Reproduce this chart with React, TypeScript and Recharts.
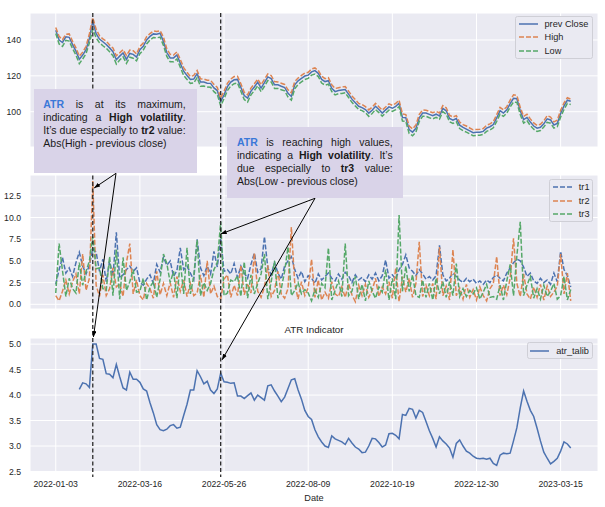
import React from "react";
import { CartesianGrid, Label, Legend, Line, LineChart, XAxis, YAxis } from "recharts";

// trading-day index of each sample (every second session, 2022-01-03 .. 2023-03-20)
const days = [
  0, 2, 4, 6, 8, 10, 12, 14, 16, 18, 20, 22, 24, 26, 28, 30, 32, 34, 36, 38,
  40, 42, 44, 46, 48, 50, 52, 54, 56, 58, 60, 62, 64, 66, 68, 70, 72, 74, 76, 78,
  80, 82, 84, 86, 88, 90, 92, 94, 96, 98, 100, 102, 104, 106, 108, 110, 112, 114, 116, 118,
  120, 122, 124, 126, 128, 130, 132, 134, 136, 138, 140, 142, 144, 146, 148, 150, 152, 154, 156, 158,
  160, 162, 164, 166, 168, 170, 172, 174, 176, 178, 180, 182, 184, 186, 188, 190, 192, 194, 196, 198,
  200, 202, 204, 206, 208, 210, 212, 214, 216, 218, 220, 222, 224, 226, 228, 230, 232, 234, 236, 238,
  240, 242, 244, 246, 248, 250, 252, 254, 256, 258, 260, 262, 264, 266, 268, 270, 272, 274, 276, 278,
  280, 282, 284, 286, 288, 290, 292, 294, 296, 298, 300, 302, 304, 306,
];

const xTicks = [0, 50, 100, 150, 200, 250, 300];
const xTickLabels = ["2022-01-03", "2022-03-16", "2022-05-26", "2022-08-09", "2022-10-19", "2022-12-30", "2023-03-15"];

const prevClose = [
  145.5, 140.0, 138.6, 141.8, 141.5, 137.4, 133.8, 129.2, 131.6, 134.6,
  141.0, 150.5, 143.5, 140.5, 139.0, 137.5, 135.6, 133.5, 129.0, 131.0,
  132.8, 129.2, 132.5, 132.0, 130.5, 134.6, 136.5, 140.0, 142.0, 143.4,
  143.2, 143.8, 139.2, 133.0, 130.0, 130.0, 131.6, 127.0, 122.6, 120.2,
  118.0, 118.2, 121.2, 116.5, 116.5, 115.9, 115.8, 113.3, 111.8, 105.6,
  109.4, 114.0, 116.5, 117.8, 118.0, 113.5, 109.0, 107.6, 111.5, 113.8,
  116.5, 113.2, 116.2, 119.4, 118.5, 115.0, 115.0, 114.2, 113.5, 110.3,
  108.5, 115.0, 117.2, 118.6, 119.9, 120.4, 122.2, 122.9, 121.4, 118.0,
  116.8, 117.3, 113.1, 111.2, 111.8, 112.1, 112.4, 109.8, 107.0, 105.0,
  103.0, 102.3, 101.2, 99.2, 100.8, 103.0, 101.2, 99.2, 101.0, 102.7,
  101.9, 103.0, 104.7, 96.8, 96.6, 90.0, 88.6, 90.7, 96.6, 99.2,
  99.2, 98.5, 97.8, 98.6, 97.6, 101.8, 100.5, 96.2, 95.3, 96.2,
  92.5, 91.2, 90.3, 89.3, 88.3, 88.5, 88.5, 89.0, 90.8, 91.6,
  92.8, 96.5, 100.6, 99.2, 101.0, 104.5, 107.5, 107.2, 100.5, 95.6,
  96.8, 94.2, 92.0, 90.8, 91.3, 93.2, 96.0, 95.4, 92.6, 93.5,
  99.0, 103.2, 106.4, 105.8,
];

const high = [
  147.0, 142.0, 140.2, 143.2, 143.4, 139.2, 135.6, 131.0, 133.2, 136.5,
  143.5, 152.5, 146.0, 142.3, 140.6, 139.4, 137.2, 135.5, 131.2, 132.8,
  134.6, 131.4, 134.4, 134.0, 132.2, 136.4, 138.3, 141.8, 143.6, 145.0,
  144.8, 145.2, 141.6, 135.0, 132.0, 131.6, 133.4, 129.2, 124.6, 122.0,
  119.6, 120.2, 123.0, 118.4, 118.2, 117.6, 117.5, 115.2, 113.6, 107.6,
  111.4, 115.8, 118.2, 119.6, 119.8, 115.6, 110.8, 109.4, 113.2, 115.6,
  118.2, 115.0, 118.0, 121.0, 120.2, 116.8, 116.6, 115.9, 115.2, 112.2,
  110.6, 116.8, 118.8, 120.2, 121.5, 122.0, 123.8, 124.4, 123.0, 119.8,
  118.4, 119.0, 115.0, 112.9, 113.4, 113.8, 114.0, 111.5, 108.8, 106.8,
  104.6, 104.0, 102.8, 101.0, 102.5, 104.6, 102.8, 100.9, 102.6, 104.4,
  103.6, 104.6, 106.4, 98.8, 98.4, 92.0, 90.4, 92.6, 98.5, 100.9,
  100.8, 100.2, 99.4, 100.2, 99.3, 103.4, 102.2, 98.0, 97.0, 97.8,
  94.2, 92.8, 92.0, 90.9, 89.9, 90.1, 90.2, 90.6, 92.4, 93.2,
  94.4, 98.4, 102.4, 101.0, 102.8, 106.4, 109.4, 109.0, 102.4, 97.4,
  98.6, 96.0, 93.7, 92.4, 93.0, 94.9, 97.8, 97.0, 94.3, 95.2,
  100.8, 104.9, 107.8, 107.0,
];

const low = [
  143.6, 137.8, 136.4, 139.8, 139.4, 135.2, 131.6, 126.8, 129.4, 132.4,
  138.4, 146.0, 141.2, 138.4, 136.8, 135.4, 133.4, 131.2, 126.6, 128.8,
  130.6, 127.0, 130.4, 129.8, 128.4, 132.4, 134.4, 137.8, 140.0, 141.4,
  141.2, 141.6, 137.0, 130.8, 127.8, 127.8, 129.4, 124.8, 120.2, 118.0,
  115.8, 116.0, 119.0, 114.2, 114.3, 113.8, 113.6, 111.2, 109.6, 103.2,
  107.2, 111.8, 114.4, 115.6, 116.0, 111.4, 106.8, 105.4, 109.4, 111.8,
  114.4, 111.2, 114.2, 117.4, 116.6, 113.0, 113.0, 112.2, 111.6, 108.2,
  106.4, 112.8, 115.2, 116.6, 118.0, 118.6, 120.4, 121.0, 119.6, 116.0,
  114.8, 115.4, 111.2, 109.4, 110.0, 110.2, 110.6, 107.9, 105.2, 103.2,
  101.2, 100.6, 99.5, 97.4, 99.0, 101.2, 99.5, 97.5, 99.2, 100.9,
  100.2, 101.2, 102.8, 94.8, 94.6, 87.8, 86.6, 88.6, 94.6, 97.4,
  97.4, 96.6, 96.0, 96.8, 95.8, 100.0, 98.6, 94.4, 93.4, 94.4,
  90.6, 89.4, 88.6, 87.6, 86.6, 86.8, 86.8, 87.3, 89.0, 89.8,
  91.0, 94.6, 98.6, 97.4, 99.2, 102.6, 105.4, 105.2, 98.4, 93.6,
  95.0, 92.2, 90.2, 89.0, 89.5, 91.4, 94.1, 93.6, 90.8, 91.6,
  97.0, 101.2, 104.6, 104.0,
];

// tr1 = High - Low, tr2 = |High - prev close|, tr3 = |Low - prev close|
const tr1 = [
  2.3, 4.0, 5.4, 3.6, 4.2, 3.2, 4.8, 6.0, 4.4, 3.5,
  4.5, 6.4, 6.0, 3.8, 5.2, 2.6, 5.0, 3.2, 8.3, 3.0,
  3.4, 4.0, 4.4, 3.8, 4.2, 2.5, 2.2, 2.9, 3.4, 2.4,
  4.6, 3.7, 5.4, 4.5, 5.0, 3.2, 3.9, 6.5, 4.0, 4.4,
  3.6, 2.8, 7.5, 4.2, 3.3, 4.4, 3.5, 6.1, 4.3, 7.6,
  3.8, 4.0, 3.5, 4.7, 3.1, 4.4, 3.6, 3.0, 4.6, 5.9,
  3.7, 4.1, 7.8, 4.2, 3.4, 4.8, 3.6, 2.9, 4.4, 5.0,
  5.5, 4.0, 3.0, 3.8, 2.6, 3.3, 3.0, 2.4, 3.5, 2.8,
  3.2, 3.6, 3.0, 2.7, 3.5, 2.9, 3.7, 3.3, 2.5, 3.4,
  2.8, 3.1, 2.6, 3.4, 2.9, 3.6, 2.7, 3.3, 5.1, 3.0,
  3.4, 2.9, 4.0, 4.6, 5.7, 4.2, 3.8, 3.3, 4.0, 3.5,
  2.9, 3.2, 2.8, 3.3, 6.8, 3.4, 2.7, 3.0, 3.6, 3.2,
  2.8, 2.5, 3.0, 2.6, 2.9, 2.4, 2.7, 2.3, 2.8, 2.5,
  3.1, 3.4, 3.0, 2.7, 3.6, 4.2, 4.8, 5.2, 5.0, 4.3,
  3.2, 3.6, 2.7, 2.4, 3.0, 2.5, 2.8, 2.3, 3.6, 2.6,
  6.1, 4.0, 3.3, 2.0,
];

const tr2 = [
  1.0, 0.4, 1.5, 2.8, 1.2, 2.6, 3.5, 1.2, 5.8, 1.6,
  3.0, 14.2, 2.2, 0.9, 3.4, 1.0, 1.8, 4.2, 2.0, 2.4,
  0.9, 4.8, 7.0, 1.2, 2.8, 1.0, 0.5, 2.4, 1.8, 0.7,
  3.8, 1.1, 2.4, 1.0, 2.5, 0.8, 3.2, 1.5, 2.8, 0.9,
  2.4, 1.0, 1.3, 3.4, 0.8, 5.0, 1.2, 2.1, 0.9, 0.6,
  2.9, 3.4, 0.8, 2.2, 1.0, 4.5, 1.1, 2.4, 1.3, 5.9,
  1.5, 0.8, 2.0, 4.5, 0.9, 1.6, 3.8, 1.2, 0.7, 1.8,
  8.9, 2.4, 0.6, 2.6, 1.0, 1.9, 5.2, 0.8, 2.8, 0.5,
  1.4, 0.7, 2.6, 1.2, 0.9, 2.0, 0.8, 2.4, 1.1, 0.3,
  2.2, 1.0, 2.3, 0.8, 1.6, 3.0, 0.9, 2.0, 1.2, 2.6,
  0.7, 4.2, 0.3, 3.2, 1.4, 3.0, 0.8, 2.4, 7.2, 0.9,
  2.2, 1.0, 2.4, 0.6, 6.6, 1.0, 2.1, 0.5, 6.3, 1.0,
  1.9, 0.6, 2.3, 0.8, 1.7, 0.5, 2.0, 1.0, 0.4, 1.8,
  2.4, 5.5, 1.0, 2.2, 1.1, 3.0, 7.6, 2.4, 0.9, 3.5,
  1.2, 0.6, 2.0, 0.8, 2.3, 0.5, 2.1, 0.9, 1.4, 2.1,
  5.8, 1.2, 3.6, 0.4,
];

const tr3 = [
  1.3, 7.0, 3.9, 0.9, 3.0, 1.8, 1.3, 4.8, 2.2, 3.8,
  5.0, 7.8, 4.1, 4.2, 1.8, 1.6, 5.5, 1.0, 6.3, 0.6,
  5.4, 1.6, 2.6, 4.0, 1.4, 1.5, 3.0, 0.5, 2.0, 2.6,
  0.8, 2.9, 5.8, 4.7, 2.5, 3.8, 0.7, 5.0, 1.2, 6.5,
  1.2, 3.2, 7.4, 1.0, 2.5, 1.6, 2.4, 4.0, 4.8, 9.5,
  1.0, 1.3, 2.8, 2.6, 3.3, 0.9, 4.9, 0.7, 3.4, 1.2,
  2.4, 3.5, 5.8, 0.6, 2.6, 5.0, 0.7, 1.8, 3.8, 6.6,
  1.0, 1.6, 2.5, 1.2, 1.7, 1.3, 0.4, 1.7, 0.8, 2.4,
  1.9, 6.5, 0.5, 1.6, 2.7, 0.9, 7.0, 1.0, 1.5, 3.2,
  0.6, 2.3, 0.4, 2.7, 1.5, 0.7, 2.0, 1.4, 4.0, 0.5,
  3.0, 0.6, 10.3, 1.5, 4.4, 1.5, 3.4, 1.0, 0.8, 2.8,
  0.8, 2.4, 0.5, 3.0, 1.2, 2.6, 0.8, 2.6, 1.0, 4.7,
  0.9, 1.8, 0.9, 1.6, 1.2, 1.9, 0.6, 1.4, 2.3, 0.8,
  0.9, 0.6, 2.2, 0.5, 2.7, 4.6, 1.0, 5.6, 9.5, 1.0,
  2.2, 3.2, 0.7, 1.8, 0.6, 2.2, 0.9, 1.5, 2.4, 0.6,
  1.0, 3.2, 0.5, 1.7,
];

// talib ATR(14): empty for the first 14 sessions
const atrTalib = [
  null, null, null, null, null, null, null, 4.11, 4.24, 4.22,
  4.15, 5.0, 5.0, 4.72, 4.7, 4.42, 4.41, 4.34, 4.6, 4.36,
  4.14, 4.1, 4.45, 4.31, 4.31, 4.25, 4.12, 4.08, 3.85, 3.65,
  3.42, 3.32, 3.3, 3.33, 3.4, 3.42, 3.35, 3.37, 3.6, 3.82,
  4.1, 4.1, 4.48, 4.36, 4.22, 4.27, 4.1, 4.03, 4.12, 4.43,
  4.26, 4.25, 4.23, 4.24, 3.98, 3.98, 3.93, 3.99, 4.04, 3.9,
  4.0, 3.95, 3.9, 4.18, 4.2, 4.08, 3.98, 3.87, 3.96, 4.13,
  4.3, 4.32, 4.1, 3.92, 3.7, 3.58, 3.52, 3.32, 3.18, 3.08,
  3.0, 2.97, 3.2, 3.14, 3.11, 3.08, 3.03, 3.15, 3.06, 2.98,
  2.94, 2.87, 2.88, 3.0, 3.15, 3.14, 3.07, 2.98, 3.02, 3.24,
  3.25, 3.21, 3.14, 3.62, 3.6, 3.74, 3.72, 3.55, 3.7, 3.66,
  3.48, 3.3, 3.15, 2.98, 3.18, 3.1, 3.04, 2.96, 2.78, 3.05,
  3.12, 3.0, 2.9, 2.86, 2.8, 2.76, 2.75, 2.76, 2.74, 2.76,
  2.66, 2.62, 2.82, 2.86, 2.85, 2.86, 3.1, 3.36, 3.75, 4.08,
  3.88, 3.7, 3.58, 3.35, 3.1, 2.88, 2.76, 2.65, 2.7, 2.76,
  2.9, 3.08, 3.04, 2.96,
];

// sessions marked by the two annotations
const events = [22, 98];

const rows = days.map((d, k) => ({
  d,
  close: prevClose[k],
  high: high[k],
  low: low[k],
  tr1: tr1[k],
  tr2: tr2[k],
  tr3: tr3[k],
  atr: atrTalib[k],
}));

const FONT = '"Liberation Sans", Arial, Helvetica, sans-serif';
const BG = "#EAEAF2";
const BLUE = "#4C72B0";
const ORANGE = "#DD8452";
const GREEN = "#55A868";
const INK = "#262626";
const DASH = "5 2";
const LW = 1.5;

const W = 605;
const PLOT_L = 30;
const PLOT_R = 598;
const X_DOMAIN: [number, number] = [-15.3, 322.2];
const P1 = { top: 13, bottom: 147, domain: [80.3, 155.06] as [number, number] };
const P2 = { top: 175, bottom: 309, domain: [-0.54, 14.9] as [number, number] };
const P3 = { top: 338, bottom: 472, domain: [2.49, 5.12] as [number, number] };

// same mapping the axes use, for the overlay that spans the three panels
const px = (i: number) => PLOT_L + ((i - X_DOMAIN[0]) / (X_DOMAIN[1] - X_DOMAIN[0])) * (PLOT_R - PLOT_L);
const py = (p: typeof P1, v: number) =>
  p.bottom - ((v - p.domain[0]) / (p.domain[1] - p.domain[0])) * (p.bottom - p.top);

const tick = { fontSize: 8.7, fill: INK, fontFamily: FONT };

type Item = { label: string; color: string; dash?: string };

function LegendBox({ items, width, padTop = 0.5 }: { items: Item[]; width: number; padTop?: number }) {
  return (
    <div
      style={{
        width,
        boxSizing: "border-box",
        background: BG,
        border: "1px solid #CFCFD6",
        borderRadius: 2.5,
        padding: `${padTop}px 0 0.5px 2.5px`,
        fontFamily: FONT,
        fontSize: 9.2,
        color: INK,
      }}
    >
      {items.map((it) => (
        <div key={it.label} style={{ display: "flex", alignItems: "center", height: 13.3 }}>
          <svg width={19} height={6} style={{ marginRight: 7, flex: "none" }}>
            <line x1={0} y1={3} x2={19} y2={3} stroke={it.color} strokeWidth={LW} strokeDasharray={it.dash} />
          </svg>
          <span>{it.label}</span>
        </div>
      ))}
    </div>
  );
}

function Grid() {
  return <CartesianGrid fill={BG} stroke="#FFFFFF" strokeWidth={1} />;
}

function XHidden() {
  return (
    <XAxis dataKey="d" type="number" domain={X_DOMAIN} allowDataOverflow ticks={xTicks} hide />
  );
}

// --- annotation text -------------------------------------------------------
const ATR_BLUE = "#3B78D8";

function renderWord(w: string, key: number) {
  const parts = w.split(/(\*\*[^*]+\*\*|##[^#]+##)/).filter(Boolean);
  return (
    <span key={key}>
      {parts.map((p, j) =>
        p.startsWith("**") ? (
          <b key={j}>{p.slice(2, -2)}</b>
        ) : p.startsWith("##") ? (
          <b key={j} style={{ color: ATR_BLUE }}>
            {p.slice(2, -2)}
          </b>
        ) : (
          <span key={j}>{p}</span>
        )
      )}
    </span>
  );
}

type NoteLine = { text: string; justify: boolean };

function Note({ left, top, width, height, padL, padT, textW, lines }: {
  left: number; top: number; width: number; height: number; padL: number; padT: number; textW: number; lines: NoteLine[];
}) {
  return (
    <div
      style={{
        position: "absolute",
        left,
        top,
        width,
        height,
        boxSizing: "border-box",
        background: "#D9D3E8",
        paddingLeft: padL,
        paddingTop: padT,
        fontFamily: FONT,
        fontSize: 10.5,
        lineHeight: "12.9px",
        color: "#1A1A1A",
      }}
    >
      {lines.map((ln, k) => {
        const words = ln.text.split(" ");
        return ln.justify ? (
          <div key={k} style={{ width: textW, display: "flex", justifyContent: "space-between", whiteSpace: "pre" }}>
            {words.map((w, j) => renderWord(w, j))}
          </div>
        ) : (
          <div key={k} style={{ width: textW, whiteSpace: "pre" }}>
            {words.map((w, j) => (
              <React.Fragment key={j}>
                {j > 0 ? " " : ""}
                {renderWord(w, j)}
              </React.Fragment>
            ))}
          </div>
        );
      })}
    </div>
  );
}

const note1: NoteLine[] = [
  { text: "##ATR## is at its maximum,", justify: true },
  { text: "indicating a **High** **volatility**.", justify: true },
  { text: "It’s due especially to **tr2** value:", justify: true },
  { text: "Abs(High - previous close)", justify: false },
];

const note2: NoteLine[] = [
  { text: "##ATR## is reaching high values,", justify: true },
  { text: "indicating a **High** **volatility**. It’s", justify: true },
  { text: "due especially to **tr3** value:", justify: true },
  { text: "Abs(Low - previous close)", justify: false },
];

const ORIGIN1: [number, number] = [116, 173.3];
const ORIGIN2: [number, number] = [315, 198.3];

const arrows = [
  { from: ORIGIN1, to: [px(22.8), py(P2, 13.4)] },
  { from: ORIGIN1, to: [px(22.4), py(P3, 5.14)] },
  { from: ORIGIN2, to: [px(98), py(P2, 8.1)] },
  { from: ORIGIN2, to: [px(98.8), py(P3, 4.69)] },
];

export default function App() {
  return (
    <div style={{ position: "relative", width: W, height: 507, background: "#FFFFFF", fontFamily: FONT }}>
      <style>{"body{margin:0}"}</style>

      {/* price panel */}
      <div style={{ position: "absolute", left: 0, top: 0 }}>
        <LineChart width={W} height={150} data={rows} margin={{ top: 13, right: 7, bottom: 3, left: 0 }}>
          <Grid />
          <XHidden />
          <YAxis type="number" domain={P1.domain} allowDataOverflow ticks={[100, 120, 140]} width={30}
            axisLine={false} tickLine={false} tickSize={0} tickMargin={9} tick={tick} interval={0} />
          <Line dataKey="close" stroke={BLUE} strokeWidth={LW} dot={false} isAnimationActive={false} />
          <Line dataKey="high" stroke={ORANGE} strokeWidth={LW} strokeDasharray={DASH} dot={false} isAnimationActive={false} />
          <Line dataKey="low" stroke={GREEN} strokeWidth={LW} strokeDasharray={DASH} dot={false} isAnimationActive={false} />
          <Legend layout="horizontal" verticalAlign="middle" align="center"
            wrapperStyle={{ left: 515, top: 16, width: 78.3 }}
            content={() => (
              <LegendBox width={78.3} items={[
                { label: "prev Close", color: BLUE },
                { label: "High", color: ORANGE, dash: DASH },
                { label: "Low", color: GREEN, dash: DASH },
              ]} />
            )} />
        </LineChart>
      </div>

      {/* true range components */}
      <div style={{ position: "absolute", left: 0, top: 160 }}>
        <LineChart width={W} height={152} data={rows} margin={{ top: 15, right: 7, bottom: 3, left: 0 }}>
          <Grid />
          <XHidden />
          <YAxis type="number" domain={P2.domain} allowDataOverflow ticks={[0, 2.5, 5, 7.5, 10, 12.5]} width={30}
            axisLine={false} tickLine={false} tickSize={0} tickMargin={9} tick={tick} interval={0}
            tickFormatter={(v: number) => v.toFixed(1)} />
          <Line dataKey="tr1" stroke={BLUE} strokeWidth={LW} strokeDasharray={DASH} dot={false} isAnimationActive={false} />
          <Line dataKey="tr2" stroke={ORANGE} strokeWidth={LW} strokeDasharray={DASH} dot={false} isAnimationActive={false} />
          <Line dataKey="tr3" stroke={GREEN} strokeWidth={LW} strokeDasharray={DASH} dot={false} isAnimationActive={false} />
          <Legend layout="horizontal" verticalAlign="middle" align="center"
            wrapperStyle={{ left: 549.3, top: 19.3, width: 44 }}
            content={() => (
              <LegendBox width={44} items={[
                { label: "tr1", color: BLUE, dash: DASH },
                { label: "tr2", color: ORANGE, dash: DASH },
                { label: "tr3", color: GREEN, dash: DASH },
              ]} />
            )} />
        </LineChart>
      </div>

      {/* ATR panel */}
      <div style={{ position: "absolute", left: 0, top: 320 }}>
        <LineChart width={W} height={187} data={rows} margin={{ top: 18, right: 7, bottom: 6, left: 0 }}>
          <Grid />
          <XAxis dataKey="d" type="number" domain={X_DOMAIN} allowDataOverflow ticks={xTicks} interval={0}
            height={29} axisLine={false} tickLine={false} tickSize={0} tickMargin={9} tick={tick}
            tickFormatter={(v: number) => xTickLabels[xTicks.indexOf(v)] ?? ""}>
            <Label value="Date" position="insideBottom" offset={0.5} style={{ fontSize: 9.2, fill: INK, fontFamily: FONT }} />
          </XAxis>
          <YAxis type="number" domain={P3.domain} allowDataOverflow ticks={[2.5, 3, 3.5, 4, 4.5, 5]} width={30}
            axisLine={false} tickLine={false} tickSize={0} tickMargin={9} tick={tick} interval={0}
            tickFormatter={(v: number) => v.toFixed(1)} />
          <Line dataKey="atr" stroke={BLUE} strokeWidth={LW} dot={false} isAnimationActive={false} />
          <Legend layout="horizontal" verticalAlign="middle" align="center"
            wrapperStyle={{ left: 526.7, top: 21.7, width: 66.6 }}
            content={() => (
              <LegendBox width={66.6} padTop={1.5} items={[{ label: "atr_talib", color: BLUE }]} />
            )} />
        </LineChart>
      </div>

      {/* event markers running through all panels */}
      <svg width={W} height={507} style={{ position: "absolute", left: 0, top: 0, pointerEvents: "none" }}>
        {events.map((e) => (
          <line key={e} x1={px(e)} x2={px(e)} y1={13} y2={477} stroke="#2B2B2B" strokeWidth={1.3} strokeDasharray="4 2.5" />
        ))}
        <text x={(PLOT_L + PLOT_R) / 2} y={333.3} textAnchor="middle" fontSize={9.8} fill={INK} fontFamily={FONT}>
          ATR Indicator
        </text>
      </svg>

      <Note left={34} top={89} width={163} height={84} padL={9.3} padT={9.2} textW={142.4} lines={note1} />
      <Note left={227} top={127} width={176} height={71} padL={10} padT={9.2} textW={155.7} lines={note2} />

      <svg width={W} height={507} style={{ position: "absolute", left: 0, top: 0, pointerEvents: "none" }}>
        <defs>
          <marker id="tip" markerWidth={6} markerHeight={4.4} refX={6} refY={2.2} orient="auto" markerUnits="userSpaceOnUse">
            <path d="M0,0 L6,2.2 L0,4.4 Z" fill="#000" />
          </marker>
        </defs>
        {arrows.map((a, k) => (
          <line key={k} x1={a.from[0]} y1={a.from[1]} x2={a.to[0]} y2={a.to[1]} stroke="#000" strokeWidth={1} markerEnd="url(#tip)" />
        ))}
      </svg>
    </div>
  );
}
